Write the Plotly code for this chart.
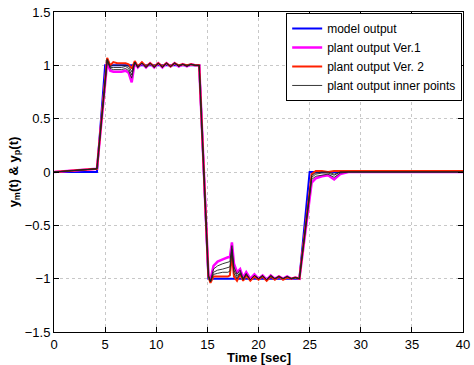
import plotly.graph_objects as go

# Model output
t_model = [0, 4.2, 5.0, 14.2, 15.1, 24.0, 25.0, 40]
y_model = [0, 0, 1, 1, -1, -1, 0, 0]

# Shared time grid for plant outputs
t_plant = [0, 4.2, 5.2, 5.5, 5.8, 6.2, 6.6, 7.0, 7.3, 7.6, 7.9, 8.2, 8.6, 9.0, 9.4, 9.8,
           10.2, 10.6, 11.0, 11.4, 11.8, 12.2, 12.6, 13.0, 13.4, 13.8, 14.2,
           15.1, 15.3, 15.6, 16.0, 16.5, 17.0, 17.2, 17.4, 17.6, 17.9, 18.2, 18.5, 18.8,
           19.2, 19.6, 20.0, 20.4, 20.8, 21.2, 21.6, 22.0, 22.4, 22.8, 23.2, 23.6, 24.0,
           25.2, 25.6, 26.2, 26.8, 27.4, 28.0, 28.8, 30, 40]

y_ver1 = [0, 0.03, 1.03, 0.95, 0.94, 0.94, 0.94, 0.95, 0.93, 0.84, 1.03, 0.98, 1.02, 0.98, 1.02, 0.98,
          1.02, 0.98, 1.02, 0.99, 1.02, 0.99, 1.01, 0.99, 1.01, 1.0, 1.0,
          -0.96, -1.01, -0.88, -0.84, -0.82, -0.80, -0.80, -0.66, -0.86, -0.94, -0.91, -0.99, -0.94,
          -1.0, -0.96, -1.0, -0.97, -1.01, -0.97, -1.0, -0.98, -1.0, -0.98, -1.0, -0.99, -1.0,
          -0.1, -0.06, -0.04, -0.03, -0.07, -0.02, 0.0, 0.0, 0.0]

y_ver2 = [0, 0.03, 1.07, 1.0, 1.03, 1.02, 1.02, 1.02, 1.01, 0.97, 1.04, 0.99, 1.03, 0.99, 1.02, 0.99,
          1.02, 0.99, 1.02, 0.99, 1.02, 1.0, 1.01, 1.0, 1.01, 1.0, 1.0,
          -0.98, -1.04, -0.98, -0.98, -0.98, -0.98, -0.97, -0.78, -0.98, -1.02, -0.96, -1.02, -0.97,
          -1.02, -0.98, -1.01, -0.98, -1.02, -0.98, -1.01, -0.98, -1.01, -0.99, -1.0, -0.99, -1.0,
          -0.02, 0.01, 0.01, 0.0, 0.01, 0.01, 0.01, 0.01, 0.01]

y_inner_a = [0, 0.03, 1.04, 0.97, 0.96, 0.96, 0.96, 0.97, 0.95, 0.88, 1.03, 0.98, 1.02, 0.98, 1.02, 0.98,
             1.02, 0.98, 1.02, 0.99, 1.02, 0.99, 1.01, 0.99, 1.01, 1.0, 1.0,
             -0.97, -1.02, -0.91, -0.88, -0.86, -0.85, -0.84, -0.69, -0.89, -0.96, -0.92, -1.0, -0.95,
             -1.01, -0.97, -1.0, -0.97, -1.01, -0.97, -1.0, -0.98, -1.0, -0.98, -1.0, -0.99, -1.0,
             -0.07, -0.04, -0.03, -0.02, -0.05, -0.01, 0.0, 0.0, 0.0]

y_inner_b = [0, 0.03, 1.05, 0.98, 0.98, 0.98, 0.98, 0.99, 0.97, 0.91, 1.03, 0.98, 1.02, 0.98, 1.02, 0.98,
             1.02, 0.98, 1.02, 0.99, 1.02, 0.99, 1.01, 0.99, 1.01, 1.0, 1.0,
             -0.97, -1.03, -0.94, -0.92, -0.91, -0.90, -0.89, -0.72, -0.92, -0.98, -0.94, -1.01, -0.96,
             -1.01, -0.97, -1.0, -0.97, -1.01, -0.97, -1.0, -0.98, -1.0, -0.98, -1.0, -0.99, -1.0,
             -0.05, -0.02, -0.01, -0.01, -0.03, 0.0, 0.0, 0.0, 0.0]

y_inner_c = [0, 0.03, 1.06, 0.99, 1.0, 1.0, 1.0, 1.0, 0.99, 0.94, 1.03, 0.99, 1.02, 0.99, 1.02, 0.99,
             1.02, 0.99, 1.02, 0.99, 1.02, 1.0, 1.01, 1.0, 1.01, 1.0, 1.0,
             -0.98, -1.03, -0.96, -0.95, -0.94, -0.94, -0.93, -0.75, -0.95, -1.0, -0.95, -1.01, -0.96,
             -1.01, -0.97, -1.0, -0.98, -1.01, -0.98, -1.0, -0.98, -1.0, -0.98, -1.0, -0.99, -1.0,
             -0.03, -0.01, 0.0, 0.0, -0.02, 0.0, 0.0, 0.0, 0.0]

inner_series = [y_inner_a, y_inner_b, y_inner_c]

x_ticks = [0, 5, 10, 15, 20, 25, 30, 35, 40]
y_ticks = [-1.5, -1, -0.5, 0, 0.5, 1, 1.5]
y_tick_text = ["\u22121.5", "\u22121", "\u22120.5", "0", "0.5", "1", "1.5"]

fig = go.Figure()
fig.add_trace(go.Scatter(x=t_model, y=y_model, mode="lines", name="model output",
                         line=dict(color="#0000ff", width=2)))
fig.add_trace(go.Scatter(x=t_plant, y=y_ver1, mode="lines", name="plant output Ver.1",
                         line=dict(color="#ff00ff", width=2.5)))
fig.add_trace(go.Scatter(x=t_plant, y=y_ver2, mode="lines", name="plant output Ver. 2",
                         line=dict(color="#ff2000", width=2)))
for i, ys in enumerate(inner_series):
    fig.add_trace(go.Scatter(x=t_plant, y=ys, mode="lines", name="plant output inner points",
                             legendgroup="inner", showlegend=(i == 0),
                             line=dict(color="#222222", width=0.9)))

font_family = "Liberation Sans, Arial, sans-serif"
axis_common = dict(showline=True, linecolor="black", linewidth=1, mirror="ticks",
                   ticks="inside", ticklen=5, tickcolor="black", automargin=False,
                   ticklabeloverflow="allow",
                   showgrid=True, gridcolor="#c8c8c8", griddash="dot", gridwidth=1,
                   zeroline=False, tickfont=dict(size=13, color="black", family=font_family))

fig.update_layout(
    width=474, height=365,
    margin=dict(l=54, r=11, t=12, b=33),
    paper_bgcolor="white", plot_bgcolor="white",
    font=dict(family=font_family, color="black"),
    xaxis=dict(range=[0, 40], tickvals=x_ticks, **axis_common),
    yaxis=dict(range=[-1.5, 1.5], tickvals=y_ticks, ticktext=y_tick_text,
               title=dict(text="<b>y<sub>m</sub>(t) & y<sub>p</sub>(t)</b>", font=dict(size=13), standoff=3),
               **axis_common),
    legend=dict(x=0.998, y=0.997, xanchor="right", yanchor="top",
                bgcolor="white", bordercolor="black", borderwidth=1,
                font=dict(size=12, color="black"), tracegroupgap=0,
                itemwidth=30),
    annotations=[dict(text="<b>Time [sec]</b>", x=0.5, y=0, xref="paper", yref="paper",
                      xanchor="center", yanchor="middle", yshift=-25, showarrow=False,
                      borderpad=0,
                      font=dict(size=13, color="black", family=font_family))],
    showlegend=True,
)

fig.write_html("out.html", config={"displayModeBar": False},
               post_script="document.body.style.margin='0px';document.body.style.overflow='hidden';")
